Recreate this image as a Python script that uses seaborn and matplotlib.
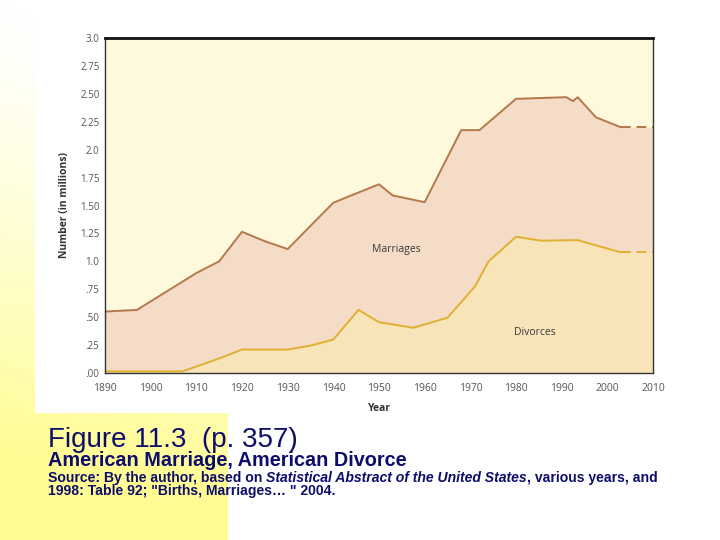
import numpy as np
import pandas as pd
import matplotlib
matplotlib.use('Agg')
import matplotlib.pyplot as plt
import seaborn as sns

# values (millions)
mar_years = [1890, 1897, 1910, 1915, 1920, 1925, 1930, 1940, 1950, 1953, 1960, 1968, 1972, 1980, 1991, 1992.5, 1993.5, 1997.5, 2003]
marriages = [0.55, 0.565, 0.895, 1.0, 1.265, 1.18, 1.11, 1.525, 1.69, 1.59, 1.53, 2.175, 2.175, 2.455, 2.47, 2.435, 2.47, 2.29, 2.2]
div_years = [1890, 1907, 1915, 1920, 1930, 1935, 1940, 1945.5, 1950, 1957.5, 1965, 1971, 1974, 1980, 1985.5, 1993.5, 2003]
divorces = [0.015, 0.015, 0.13, 0.21, 0.21, 0.245, 0.30, 0.565, 0.455, 0.405, 0.495, 0.775, 1.0, 1.22, 1.185, 1.19, 1.08]
proj_years = [2003, 2010]
mar_proj = [2.2, 2.2]
div_proj = [1.08, 1.08]

yticks = [0, 0.25, 0.5, 0.75, 1.0, 1.25, 1.5, 1.75, 2.0, 2.25, 2.5, 2.75, 3.0]
ytick_labels = ['.00', '.25', '.50', '.75', '1.0', '1.25', '1.50', '1.75', '2.0', '2.25', '2.50', '2.75', '3.0']
xticks = list(range(1890, 2011, 10))

sns.set_style('white')
plt.rcParams['font.family'] = ['Open Sans', 'DejaVu Sans']

fig = plt.figure(figsize=(7.2, 5.4), dpi=100)

# slide background: yellow gradient, white picture area
bg = fig.add_axes([0, 0, 1, 1], zorder=-10)
yy, xx = np.mgrid[0:540, 0:720]
t = np.clip((yy / 540.0) ** 1.3 * 1.25 - xx / 720.0 * 0.35, 0, 1)
img = np.ones((540, 720, 3))
img[..., 2] = 1 - 0.42 * t
img[..., 1] = 1 - 0.01 * t
bg.imshow(img, extent=[0, 720, 540, 0], aspect='auto')
bg.fill([35, 720, 720, 228, 228, 35], [0, 0, 540, 540, 413, 413], color='white', lw=0)
bg.set_xlim(0, 720)
bg.set_ylim(540, 0)
bg.axis('off')

ax = fig.add_axes([105 / 720, 1 - 373 / 540, 548 / 720, 335 / 540])
ax.set_facecolor('#fef9dc')

mar_df = pd.DataFrame({'Year': mar_years + proj_years[1:], 'Number': marriages + mar_proj[1:]})
div_df = pd.DataFrame({'Year': div_years + proj_years[1:], 'Number': divorces + div_proj[1:]})

ax.fill_between(mar_df['Year'], 0, mar_df['Number'], color='#f4dcc6', lw=0)
ax.fill_between(div_df['Year'], 0, div_df['Number'], color='#f7e4b9', lw=0)

sns.lineplot(x=mar_years, y=marriages, ax=ax, color='#b5784a', lw=1.4)
sns.lineplot(x=proj_years, y=mar_proj, ax=ax, color='#b5784a', lw=1.4, linestyle=(0, (5, 3)))
sns.lineplot(x=div_years, y=divorces, ax=ax, color='#e2b030', lw=1.4)
sns.lineplot(x=proj_years, y=div_proj, ax=ax, color='#e2b030', lw=1.4, linestyle=(0, (5, 3)))

ax.text(1953.9, 1.11, 'Marriages', ha='center', va='center', fontsize=7.5, color='#3a3a3a')
ax.text(1984.2, 0.36, 'Divorces', ha='center', va='center', fontsize=7.5, color='#3a3a3a')

ax.set_xlim(1890, 2010)
ax.set_ylim(0, 3.0)
ax.set_xticks(xticks)
ax.set_yticks(yticks)
ax.set_yticklabels(ytick_labels)
ax.tick_params(axis='y', direction='in', length=4, width=1, color='#333333',
               labelsize=7, labelcolor='#555555', pad=4)
ax.tick_params(axis='x', direction='out', length=4, width=1, color='#333333',
               labelsize=7.5, labelcolor='#555555', pad=3)
for side in ['left', 'bottom', 'right']:
    ax.spines[side].set_color('#333333')
    ax.spines[side].set_linewidth(1)
ax.spines['top'].set_color('#111111')
ax.spines['top'].set_linewidth(2)
ax.set_xlabel('Year', fontsize=7.5, fontweight='bold', color='#333333', labelpad=7)
ax.set_ylabel('Number (in millions)', fontsize=7.5, fontweight='bold', color='#333333', labelpad=7)

# slide caption (lines sit tightly together as on the slide)
navy = '#0d0d6b'
lib = ['Liberation Sans', 'DejaVu Sans']
fig.text(48 / 720, 1 - 447 / 540, 'Figure 11.3  (p. 357)', fontsize=20, color=navy,
         family=lib, va='baseline')
fig.text(48 / 720, 1 - 466.5 / 540, 'American Marriage, American Divorce', fontsize=14.3,
         fontweight='bold', color=navy, family=lib, va='baseline')

fig.canvas.draw()
renderer = fig.canvas.get_renderer()
pieces = [('Source: By the author, based on ', 'normal'),
          ('Statistical Abstract of the United States', 'italic'),
          (', various years, and', 'normal')]
x0 = 48
for txt, style in pieces:
    tt = fig.text(x0 / 720, 1 - 482 / 540, txt, fontsize=10.1, fontweight='bold', style=style,
                  color=navy, family=lib, va='baseline')
    x0 += tt.get_window_extent(renderer).width
fig.text(48 / 720, 1 - 494.5 / 540, '1998: Table 92; "Births, Marriages\u2026 " 2004.', fontsize=10.1,
         fontweight='bold', color=navy, family=lib, va='baseline')

fig.savefig('out.png', dpi=100)
